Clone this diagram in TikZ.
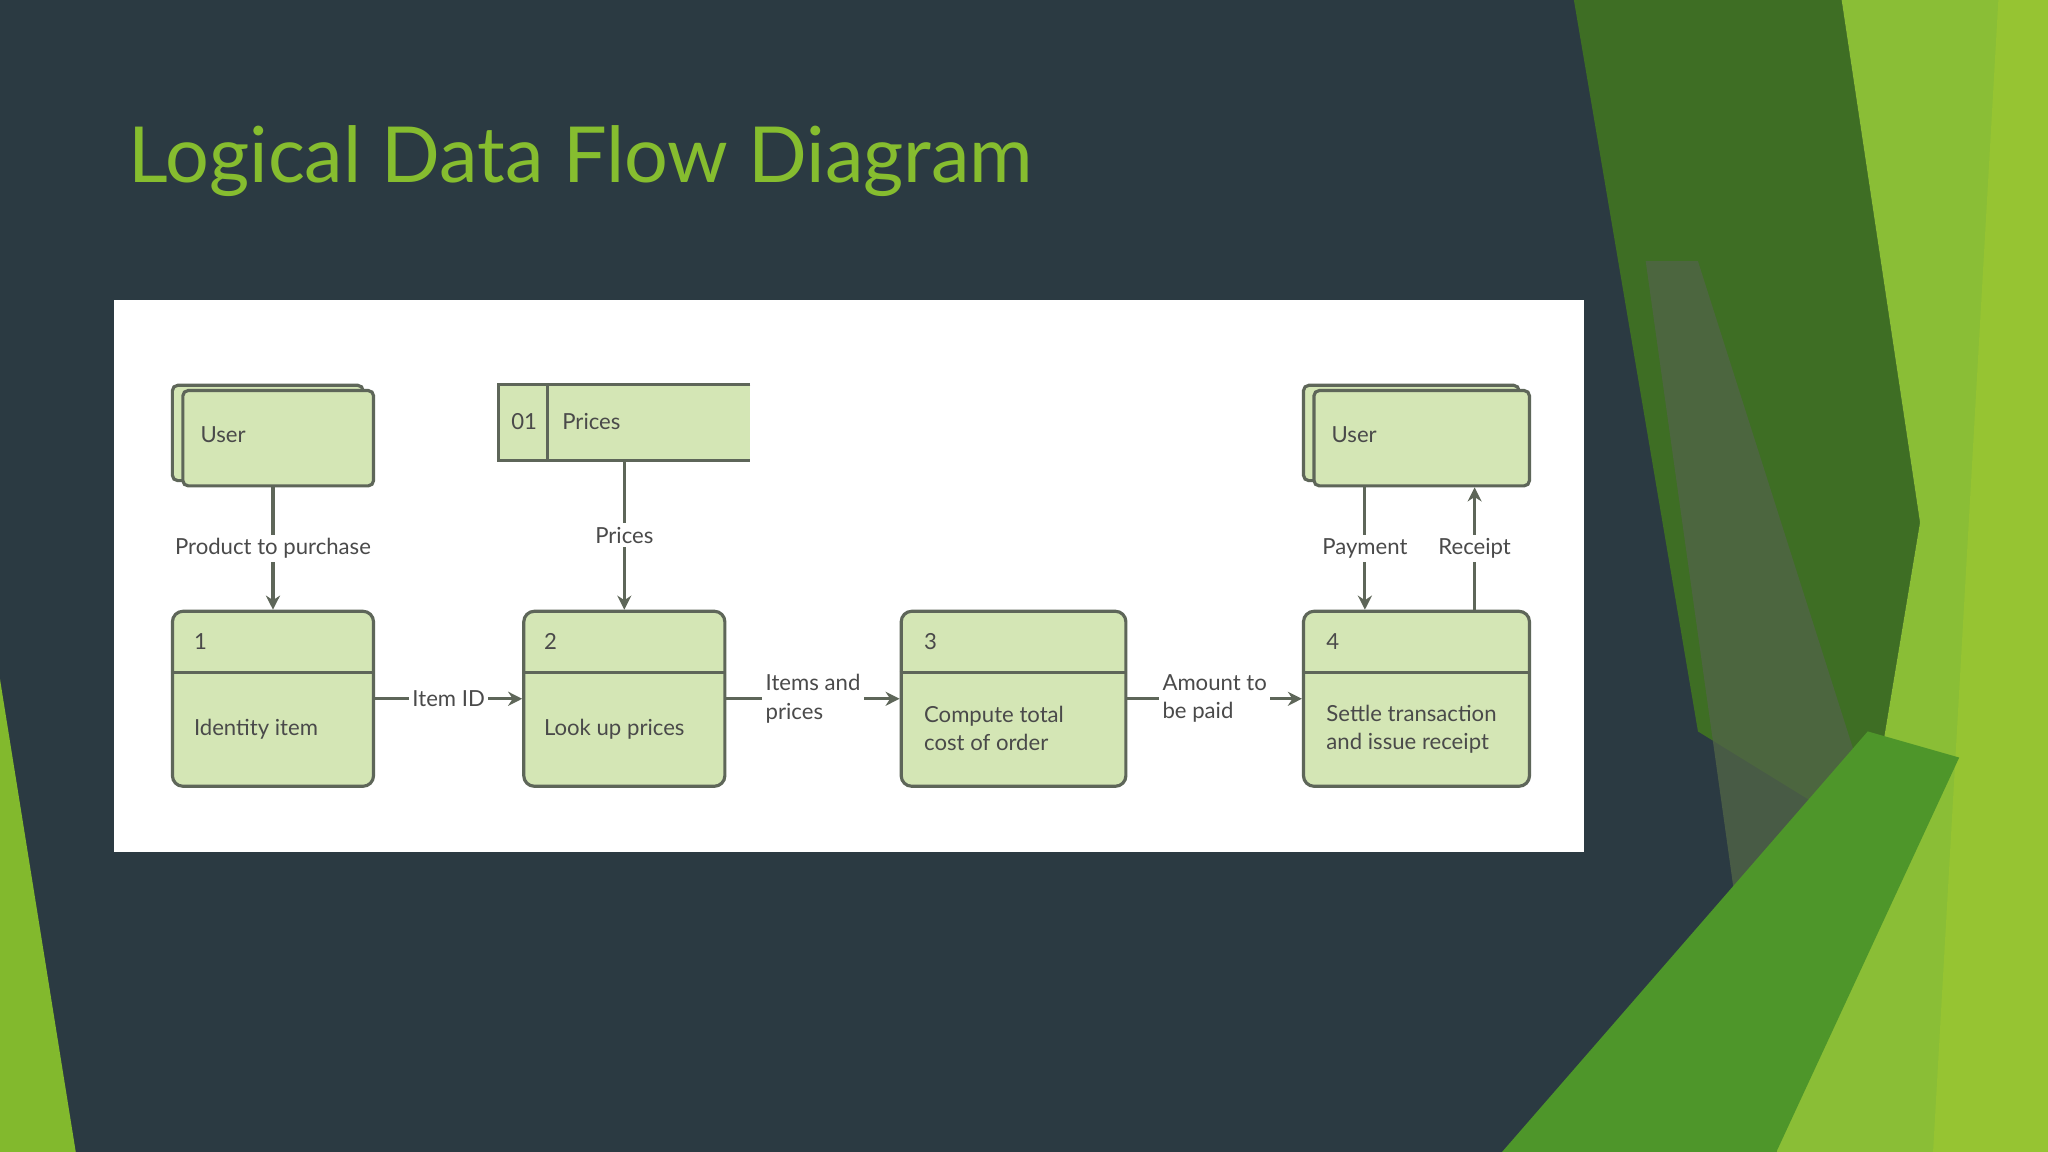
\documentclass[tikz,border=0pt]{standalone}
\usepackage{fontspec}
\setmainfont{Lato}
\usetikzlibrary{calc,arrows.meta}
\definecolor{slate}{HTML}{2B3A42}
\definecolor{boxfill}{HTML}{D4E6B5}
\definecolor{boxline}{HTML}{5E6659}
\definecolor{txt}{HTML}{4A4A4A}
\definecolor{titlegreen}{HTML}{86BD2F}
\tikzset{
  proc/.style={draw=boxline,fill=boxfill,line width=0.9pt,rounded corners=3pt,minimum height=1.75cm,inner sep=0pt},
  ent/.style={draw=boxline,fill=boxfill,line width=0.9pt,rounded corners=1.5pt,minimum height=0.953cm,inner sep=0pt},
  lbl/.style={fill=white,text=txt,font=\fontsize{6.3}{8}\selectfont,inner sep=1pt,align=left},
  txtl/.style={text=txt,font=\fontsize{6.3}{8}\selectfont,anchor=west,align=left,inner sep=0pt},
  flow/.style={draw=boxline,line width=0.9pt,-{Stealth[length=4pt,width=4pt]}}
}
\begin{document}
\begin{tikzpicture}[x=0.013061cm,y=-0.013061cm]
  % background
  \fill[slate] (0,0) rectangle (1568,882);
  \fill[color={rgb,255:red,62;green,110;blue,36}] (1205,0) -- (1410,0) -- (1470,400) -- (1430,640) -- (1300,560) -- cycle;
  \fill[color={rgb,255:red,80;green,100;blue,70},opacity=0.8] (1260,200) -- (1300,200) -- (1440,640) -- (1330,700) -- cycle;
  \fill[color={rgb,255:red,138;green,190;blue,54}] (1410,0) -- (1568,0) -- (1568,882) -- (1360,882) -- (1430,640) -- (1470,400) -- cycle;
  \fill[color={rgb,255:red,150;green,196;blue,50}] (1530,0) -- (1568,0) -- (1568,882) -- (1480,882) -- cycle;
  \fill[color={rgb,255:red,78;green,150;blue,42}] (1150,882) -- (1430,560) -- (1500,580) -- (1360,882) -- cycle;
  \fill[color={rgb,255:red,130;green,185;blue,45}] (0,520) -- (58,882) -- (0,882) -- cycle;
  % title
  \node[anchor=base west,text=titlegreen,font=\fontsize{22}{26}\selectfont,inner sep=0pt] (title) at (98,140) {Logical Data Flow Diagram};
  % panel
  \fill[white] (87,230) rectangle (1213,652);
  % external entities
  \node[ent,minimum width=1.907cm] (user1b) at (205,331.5) {};
  \node[ent,minimum width=1.907cm] (user1) at (213,335.5) {};
  \node[txtl] at (153,333) {User};
  \node[ent,minimum width=2.155cm] (user2b) at (1080.5,331.5) {};
  \node[ent,minimum width=2.155cm] (user2) at (1088.5,335.5) {};
  \node[txtl] at (1019,333) {User};
  % data store
  \node[fill=boxfill,minimum width=2.508cm,minimum height=0.744cm,inner sep=0pt] (store) at (478,323.5) {};
  \draw[boxline,line width=0.9pt] (store.north east) -- (store.north west) -- (store.south west) -- (store.south east);
  \draw[boxline,line width=0.9pt] ($(store.north west)+(38,0)$) -- ($(store.south west)+(38,0)$);
  \node[txtl] at (391,323) {01};
  \node[txtl] at (430,323) {Prices};
  % processes
  \node[proc,minimum width=2.011cm] (p1) at (209,535) {};
  \node[proc,minimum width=2.011cm] (p2) at (478,535) {};
  \node[proc,minimum width=2.247cm] (p3) at (776,535) {};
  \node[proc,minimum width=2.26cm] (p4) at (1084.5,535) {};
  \foreach \p in {p1,p2,p3,p4}
    \draw[boxline,line width=0.9pt] ($(\p.north west)+(0,48)$) -- ($(\p.north east)+(0,48)$);
  \node[txtl] at (148,491) {1};
  \node[txtl] at (148,558) {Identity item};
  \node[txtl] at (416,491) {2};
  \node[txtl] at (416,558) {Look up prices};
  \node[txtl] at (707,491) {3};
  \node[txtl] at (707,558) {Compute total\\cost of order};
  \node[txtl] at (1015,491) {4};
  \node[txtl] at (1015,558) {Settle transaction\\and issue receipt};
  % flows
  \draw[flow] (p1.north |- user1.south) -- node[lbl] {Product to purchase} (p1.north);
  \draw[flow] (store.south) -- node[lbl] {Prices} (p2.north);
  \draw[flow] (p1.east) -- node[lbl] {Item ID} (p2.west);
  \draw[flow] (p2.east) -- node[lbl] {Items and\\prices} (p3.west);
  \draw[flow] (p3.east) -- node[lbl] {Amount to\\be paid} (p4.west);
  \coordinate (pay) at ($(p4.north)+(-39.5,0)$);
  \coordinate (rec) at ($(p4.north)+(44.5,0)$);
  \draw[flow] (pay |- user2.south) -- node[lbl] {Payment} (pay);
  \draw[flow] (rec) -- node[lbl] {Receipt} (rec |- user2.south);
\end{tikzpicture}
\end{document}
